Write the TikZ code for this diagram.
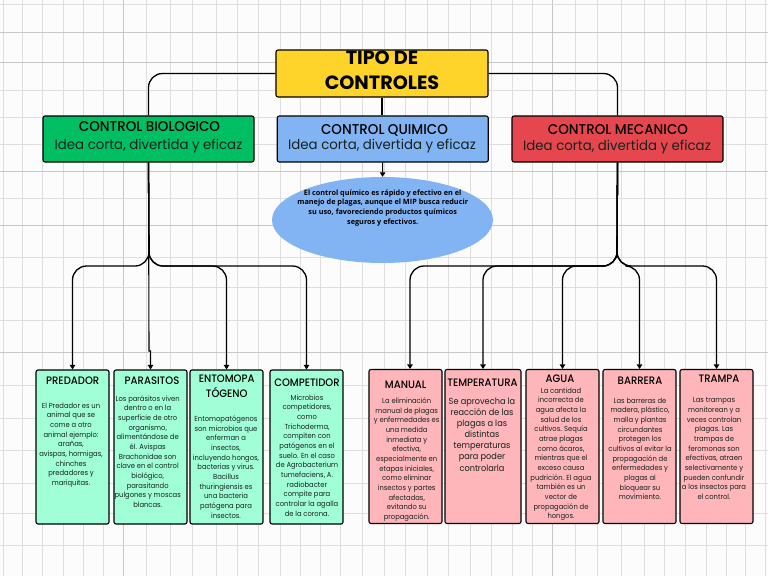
\documentclass[tikz,border=0pt]{standalone}
\usepackage{fontspec}
\setmainfont{Poppins}
\newfontfamily\pmed{Poppins Medium}
\newfontfamily\opsans{Open Sans}
\usetikzlibrary{arrows.meta,shapes.geometric}
\definecolor{cTitle}{HTML}{FFD42A}
\definecolor{cBio}{HTML}{00BF63}
\definecolor{cQui}{HTML}{82B4F4}
\definecolor{cMec}{HTML}{E6474F}
\definecolor{cGreen}{HTML}{A0FFD6}
\definecolor{cPink}{HTML}{FFB6BA}
\definecolor{cInk}{HTML}{15231E}
\tikzset{
  boxbase/.style={draw=black,line width=1.1pt,rounded corners=2pt,inner sep=0pt,anchor=center},
  topbox/.style={boxbase,minimum width=211pt,minimum height=46pt},
  leaf/.style={boxbase,minimum width=73pt,minimum height=154pt},
  leafg/.style={leaf,fill=cGreen},
  leafr/.style={leaf,fill=cPink},
  conn/.style={draw=black,line width=1.3pt,rounded corners=14pt},
  arr/.style={conn,-{Triangle[length=4.5pt,width=5.5pt]}},
  head/.style={inner sep=0pt,align=center,text=black,font=\pmed\fontsize{10.8}{15}\selectfont\addfontfeatures{FakeStretch=0.93}},
  body/.style={inner sep=0pt,anchor=north,align=center,text=cInk,font=\fontsize{7.3}{9.67}\selectfont\addfontfeatures{FakeStretch=0.93}},
  ttl/.style={inner sep=0pt,align=center,text=black,font=\pmed\fontsize{14.2}{15}\selectfont\addfontfeatures{FakeStretch=0.95}},
  sub/.style={inner sep=0pt,align=center,text=cInk,font=\fontsize{13.6}{15}\selectfont\addfontfeatures{FakeStretch=0.98}},
  gridl/.style={draw=black!13,line width=0.55pt},
  gridm/.style={draw=black!22,line width=0.7pt}
}
\begin{document}
\begin{tikzpicture}[x=1pt,y=-1pt]
\useasboundingbox (0,0) rectangle (768,576);
\fill[white!99!black] (0,0) rectangle (768,576);
\foreach \g in {3,22.5,42,63,83,103,146,170,192,216,237,258,280,300,320,340,362,384,405,427,448,470,491,512,532,575,597,621,644,664,685,706,726,745,765}
  \draw[gridl] (\g,0) -- (\g,576);
\foreach \g in {123,552}
  \draw[gridm] (\g,0) -- (\g,576);
\foreach \g in {4,90,117,144,198,257,287,320,385,418,450,483,513,545}
  \draw[gridl] (0,\g) -- (768,\g);
\foreach \g in {32,62,171,225,352}
  \draw[gridm] (0,\g) -- (768,\g);

% connector waypoints
\coordinate (busb) at (149,266);
\coordinate (busm) at (617,266);

% boxes
\node[boxbase,fill=cTitle,minimum width=212pt,minimum height=47pt] (title) at (382,73.5) {};
\node[topbox,fill=cBio] (bio) at (148.5,139) {};
\node[topbox,fill=cQui] (qui) at (382.75,139) {};
\node[topbox,fill=cMec] (mec) at (617.5,139) {};
\node[ellipse,fill=cQui,minimum width=221pt,minimum height=86pt,inner sep=0pt] (eli) at (382.5,220) {};

\node[leafg] (pre) at (72.5,447) {};
\node[leafg] (par) at (150.5,447) {};
\node[leafg] (ent) at (226.5,447) {};
\node[leafg] (com) at (306.5,447) {};
\node[leafr] (man) at (405.5,446.5) {};
\node[leafr,minimum width=76pt] (tem) at (483,446.5) {};
\node[leafr] (agu) at (562.5,446.5) {};
\node[leafr] (bar) at (639.5,446.5) {};
\node[leafr] (tra) at (716.5,446.5) {};

% connectors
\draw[conn] (title.west) -| (bio.north);
\draw[conn] (title.east) -| (mec.north);
\draw[conn] (title.south) -- (title.south |- qui.north);
\draw[arr,rounded corners=0pt,line width=1pt] (qui.south) -- (eli.north);
\draw[arr] (bio.south) -- (busb) -| (pre.north);
\draw[arr,rounded corners=0pt,line width=1.1pt] (bio.south) -- (149,351) -- (par.north |- 0,351) -- (par.north);
\draw[arr] (bio.south) -- (busb) -| (ent.north);
\draw[arr] (bio.south) -- (busb) -| (com.north);
\draw[arr] (mec.south) -- (busm) -| ([xshift=4.5pt]man.north);
\draw[arr] (mec.south) -- (busm) -| (tem.north);
\draw[arr] (mec.south) -- (busm) -| (agu.north);
\draw[arr] (mec.south) -- (busm) -| (bar.north);
\draw[arr] (mec.south) -- (busm) -| (tra.north);

% top labels
\node[inner sep=0pt,align=center,text=black,font=\fontsize{19.2}{25}\selectfont\bfseries] (ttxt) at (382,70.5) {TIPO DE\\CONTROLES};
\node[ttl] (t1) at (149.5,127) {CONTROL BIOLOGICO};
\node[sub] (s1) at (148.5,146) {Idea corta, divertida y eficaz};
\node[ttl] (t2) at (384.5,130) {CONTROL QUIMICO};
\node[sub] (s2) at (382,146) {Idea corta, divertida y eficaz};
\node[ttl] (t3) at (618,130) {CONTROL MECANICO};
\node[sub] (s3) at (617,147) {Idea corta, divertida y eficaz};
\node[inner sep=0pt,anchor=north,align=center,text=black,font=\opsans\fontsize{7.3}{9.7}\selectfont\bfseries] (etx) at (382.7,189.3) {El control químico es rápido y efectivo en el\\manejo de plagas, aunque el MIP busca reducir\\su uso, favoreciendo productos químicos\\seguros y efectivos.};

% green labels
\node[head] (h1) at (72.7,381) {PREDADOR};
\node[body] (b1) at (71,402.5) {El Predador es un\\animal que se\\come a otro\\animal ejemplo:\\arañas,\\avispas, hormigas,\\chinches\\predadores y\\mariquitas.};
\node[head] (h2) at (152,381) {PARASITOS};
\node[body] (b2) at (147.7,395.2) {Los parásitos viven\\dentro o en la\\superficie de otro\\organismo,\\alimentándose de\\él. Avispas\\Brachonidae son\\clave en el control\\biológico,\\parasitando\\pulgones y moscas\\blancas.};
\node[head] (h3) at (226.7,386.5) {ENTOMOPA\\TÓGENO};
\node[body] (b3) at (226,415.5) {Entomopatógenos\\son microbios que\\enferman a\\insectos,\\incluyendo hongos,\\bacterias y virus.\\Bacillus\\thuringiensis es\\una bacteria\\patógena para\\insectos.};
\node[head] (h4) at (307,383) {COMPETIDOR};
\node[body] (b4) at (307,394.5) {Microbios\\competidores,\\como\\Trichoderma,\\compiten con\\patógenos en el\\suelo. En el caso\\de Agrobacterium\\tumefaciens, A.\\radiobacter\\compite para\\controlar la agalla\\de la corona.};

% pink labels
\node[head] (h5) at (405.7,385) {MANUAL};
\node[body] (b5) at (406.7,397.5) {La eliminación\\manual de plagas\\y enfermedades es\\una medida\\inmediata y\\efectiva,\\especialmente en\\etapas iniciales,\\como eliminar\\insectos y partes\\afectadas,\\evitando su\\propagación.};
\node[head] (h6) at (482.5,383) {TEMPERATURA};
\node[body,font=\fontsize{8.8}{11.1}\selectfont\addfontfeatures{FakeStretch=0.93}] (b6) at (482,397.7) {Se aprovecha la\\reacción de las\\plagas a las\\distintas\\temperaturas\\para poder\\controlarla};
\node[head] (h7) at (560,379) {AGUA};
\node[body] (b7) at (561,387.5) {La cantidad\\incorrecta de\\agua afecta la\\salud de los\\cultivos. Sequía\\atrae plagas\\como ácaros,\\mientras que el\\exceso causa\\pudrición. El agua\\también es un\\vector de\\propagación de\\hongos.};
\node[head] (h8) at (640,381) {BARRERA};
\node[body] (b8) at (640,397.5) {Las barreras de\\madera, plástico,\\malla y plantas\\circundantes\\protegen los\\cultivos al evitar la\\propagación de\\enfermedades y\\plagas al\\bloquear su\\movimiento.};
\node[head] (h9) at (719,379) {TRAMPA};
\node[body] (b9) at (714,397.5) {Las trampas\\monitorean y a\\veces controlan\\plagas. Las\\trampas de\\feromonas son\\efectivas, atraen\\selectivamente y\\pueden confundir\\a los insectos para\\el control.};
\end{tikzpicture}
\end{document}
